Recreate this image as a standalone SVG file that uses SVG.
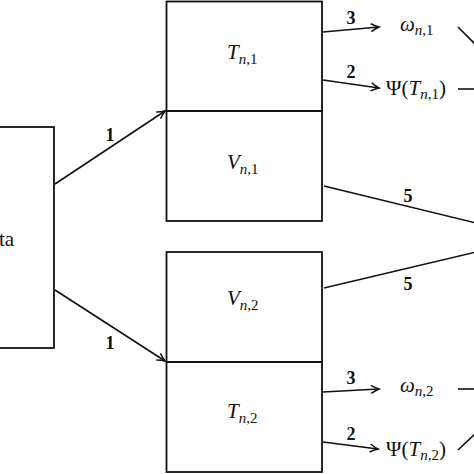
<svg xmlns="http://www.w3.org/2000/svg" width="474" height="474" viewBox="0 0 474 474">
<style>
.box{fill:none;stroke:#111;stroke-width:1.8}
.ln{fill:none;stroke:#111;stroke-width:1.6}
.t{font-family:"Liberation Serif","DejaVu Serif",serif;fill:#111;font-size:21px}
.i{font-style:italic}
.s{font-size:15px}
.lab{font-family:"Liberation Serif","DejaVu Serif",serif;font-weight:bold;fill:#111;font-size:18px;text-anchor:middle}
</style>
<defs>
<marker id="ah" markerWidth="12" markerHeight="10" refX="0" refY="0" viewBox="-10 -5 12 10" orient="auto" markerUnits="userSpaceOnUse">
<path d="M-8,-4 Q-3,-1 0,0 Q-3,1 -8,4" fill="none" stroke="#111" stroke-width="1.5"/>
</marker>
</defs>
<g id="data">
<rect class="box" x="-10" y="127" width="64" height="221"/>
<text class="t" x="-1" y="246">ta</text>
</g>
<g id="box1">
<rect class="box" x="166.5" y="1.5" width="155.5" height="109.5"/>
<rect class="box" x="166.5" y="111" width="155.5" height="110"/>
<text class="t" x="227" y="59"><tspan class="i">T</tspan><tspan class="s i" dy="5">n</tspan><tspan class="s" >,1</tspan></text>
<text class="t" x="227" y="169"><tspan class="i">V</tspan><tspan class="s i" dy="5">n</tspan><tspan class="s">,1</tspan></text>
</g>
<g id="box2">
<rect class="box" x="166.5" y="252" width="155.5" height="110"/>
<rect class="box" x="166.5" y="362" width="155.5" height="110"/>
<text class="t" x="227" y="305"><tspan class="i">V</tspan><tspan class="s i" dy="5">n</tspan><tspan class="s">,2</tspan></text>
<text class="t" x="227" y="418"><tspan class="i">T</tspan><tspan class="s i" dy="5">n</tspan><tspan class="s">,2</tspan></text>
</g>
<g id="omega1"><text class="t" x="400" y="31"><tspan class="i">ω</tspan><tspan class="s i" dy="4">n</tspan><tspan class="s">,1</tspan></text></g>
<g id="psi1"><text class="t" x="386" y="95">Ψ(<tspan class="i">T</tspan><tspan class="s i" dy="4">n</tspan><tspan class="s">,1</tspan><tspan dy="-4">)</tspan></text></g>
<g id="omega2"><text class="t" x="400" y="392"><tspan class="i">ω</tspan><tspan class="s i" dy="4">n</tspan><tspan class="s">,2</tspan></text></g>
<g id="psi2"><text class="t" x="386" y="456">Ψ(<tspan class="i">T</tspan><tspan class="s i" dy="4">n</tspan><tspan class="s">,2</tspan><tspan dy="-4">)</tspan></text></g>
<g id="connectors">
<line class="ln" x1="55" y1="184" x2="165" y2="111" marker-end="url(#ah)"/>
<line class="ln" x1="55" y1="290" x2="165" y2="361" marker-end="url(#ah)"/>
<line class="ln" x1="323" y1="32" x2="379" y2="27" marker-end="url(#ah)"/>
<line class="ln" x1="323" y1="80" x2="379" y2="88" marker-end="url(#ah)"/>
<line class="ln" x1="323" y1="392" x2="379" y2="389" marker-end="url(#ah)"/>
<line class="ln" x1="323" y1="442" x2="378" y2="449" marker-end="url(#ah)"/>
<line class="ln" x1="324" y1="186" x2="476" y2="223"/>
<line class="ln" x1="324" y1="288" x2="476" y2="252"/>
<line class="ln" x1="458" y1="27" x2="476" y2="45"/>
<line class="ln" x1="458" y1="89" x2="476" y2="89"/>
<line class="ln" x1="458" y1="389" x2="476" y2="389"/>
<line class="ln" x1="458" y1="450" x2="476" y2="433"/>
<text class="lab" x="110" y="141">1</text>
<text class="lab" x="110" y="349">1</text>
<text class="lab" x="351" y="24">3</text>
<text class="lab" x="351" y="78">2</text>
<text class="lab" x="351" y="384">3</text>
<text class="lab" x="351" y="440">2</text>
<text class="lab" x="408" y="202">5</text>
<text class="lab" x="408" y="290">5</text>
</g>
</svg>
